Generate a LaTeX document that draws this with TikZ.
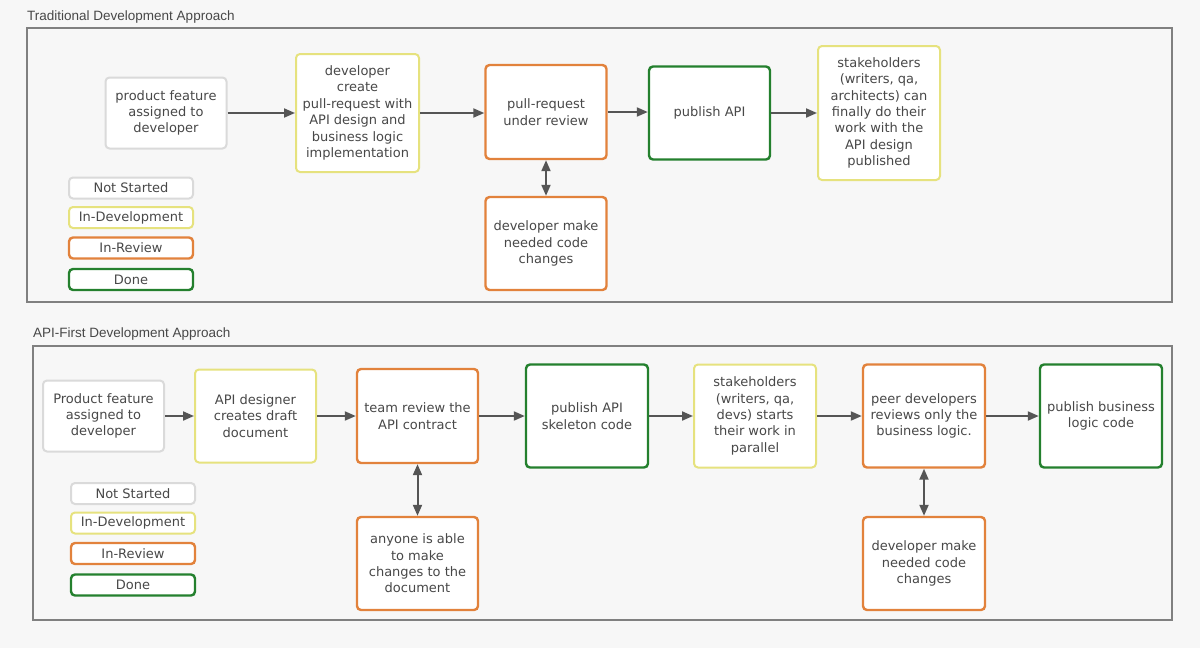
\documentclass[tikz,border=0pt]{standalone}
\usepackage{fontspec}
\setmainfont{DejaVu Sans}
\newfontfamily\titlefont{Liberation Sans}
\usetikzlibrary{arrows.meta}
\definecolor{bgc}{HTML}{F7F7F7}
\definecolor{panelc}{HTML}{808080}
\definecolor{grayc}{HTML}{DADADA}
\definecolor{yellowc}{HTML}{E6E27E}
\definecolor{orangec}{HTML}{E2823C}
\definecolor{greenc}{HTML}{24802E}
\definecolor{txtc}{HTML}{484848}
\definecolor{arrc}{HTML}{555555}
\tikzset{
  box/.style={rectangle, rounded corners=4pt, fill=white, align=center, inner sep=2pt,
    text=txtc, font=\fontsize{13}{16.4}\selectfont},
  gbox/.style={box, draw=grayc, line width=2pt},
  ybox/.style={box, draw=yellowc, line width=2pt},
  obox/.style={box, draw=orangec, line width=2.4pt},
  dbox/.style={box, draw=greenc, line width=2.4pt},
  legend/.style={minimum width=124pt, minimum height=21pt, font=\fontsize{13}{14}\selectfont},
  panel/.style={draw=panelc, line width=1.2pt, fill=bgc},
  ptitle/.style={anchor=west, text=txtc, font=\titlefont\fontsize{13.5}{15}\selectfont, inner sep=0pt},
  arr/.style={draw=arrc, line width=2pt, -{Triangle[length=11pt,width=9pt]}},
  darr/.style={draw=arrc, line width=2pt, {Triangle[length=11pt,width=9pt]}-{Triangle[length=11pt,width=9pt]}}
}
\begin{document}
\begin{tikzpicture}[x=1pt,y=-1pt]
\fill[bgc] (0,0) rectangle (1200,648);
\useasboundingbox (0,0) rectangle (1200,648);
% panels
\node[ptitle] (t1) at (27,17) {Traditional Development Approach};
\draw[panel] (27,28) rectangle (1172,302);
\node[ptitle] (t2) at (33,334) {API-First Development Approach};
\draw[panel] (33,346) rectangle (1172,620);

% top flow
\node[gbox, minimum width=121pt, minimum height=71pt] (tg) at (166,113) {product feature\\assigned to\\developer};
\node[ybox, minimum width=123pt, minimum height=118pt] (ty) at (357.5,113) {developer\\create\\pull-request with\\API design and\\business logic\\implementation};
\node[obox, minimum width=121pt, minimum height=94pt] (to) at (546,112) {pull-request\\under review};
\node[dbox, minimum width=121pt, minimum height=93pt] (tgr) at (709.5,113) {publish API};
\node[ybox, minimum width=122pt, minimum height=134pt] (ty2) at (879,113) {stakeholders\\(writers, qa,\\architects) can\\finally do their\\work with the\\API design\\published};
\node[obox, minimum width=121pt, minimum height=93pt] (to2) at (546,243.5) {developer make\\needed code\\changes};

\draw[arr] (tg) -- (tg -| ty.west);
\draw[arr] (ty) -- (ty -| to.west);
\draw[arr] (to) -- (to -| tgr.west);
\draw[arr] (tgr) -- (tgr -| ty2.west);
\draw[darr] (to.south) -- (to2.north);

% top legend
\node[gbox, legend] (l1) at (131,188) {Not Started};
\node[ybox, legend] (l2) at (131,217.5) {In-Development};
\node[obox, legend] (l3) at (131,248) {In-Review};
\node[dbox, legend] (l4) at (131,279.5) {Done};

% bottom flow
\node[gbox, minimum width=121pt, minimum height=71pt] (bg) at (103.5,416) {Product feature\\assigned to\\developer};
\node[ybox, minimum width=121pt, minimum height=93pt] (by) at (255.5,416) {API designer\\creates draft\\document};
\node[obox, minimum width=121pt, minimum height=94pt] (bo) at (417.5,416) {team review the\\API contract};
\node[dbox, minimum width=122pt, minimum height=103pt] (bgr) at (587,416) {publish API\\skeleton code};
\node[ybox, minimum width=122pt, minimum height=103pt] (by2) at (755,416) {stakeholders\\(writers, qa,\\devs) starts\\their work in\\parallel};
\node[obox, minimum width=122pt, minimum height=103pt] (bo2) at (924,416) {peer developers\\reviews only the\\business logic.};
\node[dbox, minimum width=122pt, minimum height=103pt] (bgr2) at (1101,416) {publish business\\logic code};
\node[obox, minimum width=121pt, minimum height=93pt] (bo3) at (417.5,563.5) {anyone is able\\to make\\changes to the\\document};
\node[obox, minimum width=122pt, minimum height=93pt] (bo4) at (924,563.5) {developer make\\needed code\\changes};

\draw[arr] (bg) -- (bg -| by.west);
\draw[arr] (by) -- (by -| bo.west);
\draw[arr] (bo) -- (bo -| bgr.west);
\draw[arr] (bgr) -- (bgr -| by2.west);
\draw[arr] (by2) -- (by2 -| bo2.west);
\draw[arr] (bo2) -- (bo2 -| bgr2.west);
\draw[darr] (bo.south) -- (bo3.north);
\draw[darr] (bo2.south) -- (bo4.north);

% bottom legend
\node[gbox, legend] (m1) at (133,493.5) {Not Started};
\node[ybox, legend] (m2) at (133,523) {In-Development};
\node[obox, legend] (m3) at (133,553.5) {In-Review};
\node[dbox, legend] (m4) at (133,585) {Done};
\end{tikzpicture}
\end{document}
